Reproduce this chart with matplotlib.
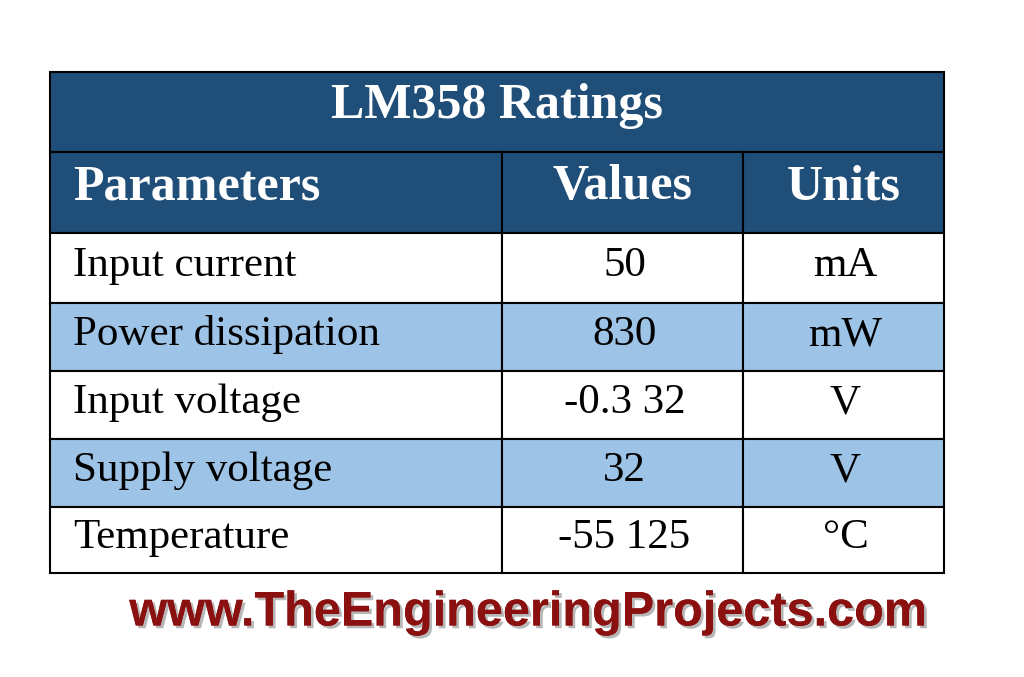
import matplotlib
matplotlib.use("Agg")
import matplotlib.pyplot as plt
from matplotlib.patches import Rectangle
import matplotlib.patheffects as pe

title = "LM358 Ratings"
headers = ["Parameters", "Values", "Units"]
params = ["Input current", "Power dissipation", "Input voltage", "Supply voltage", "Temperature"]
values = ["50", "830", "-0.3 32", "32", "-55 125"]
units = ["mA", "mW", "V", "V", "°C"]
watermark = "www.TheEngineeringProjects.com"

W, H = 1024, 677
fig = plt.figure(figsize=(W/100, H/100), dpi=100)
ax = fig.add_axes([0, 0, 1, 1])
ax.set_xlim(0, W); ax.set_ylim(H, 0); ax.axis("off")

dark = "#1F4E79"; light = "#9DC3E6"
xl, xr = 50, 944
cols = [50, 502, 743, 944]
row_y = [233, 303, 371, 439, 507, 573]
serif = "Liberation Serif"

def cell(x0, y0, x1, y1, fc):
    ax.add_patch(Rectangle((x0, y0), x1-x0, y1-y0, facecolor=fc, edgecolor="black", lw=1.5))

cell(xl, 72, xr, 152, dark)
ax.text((xl+xr)/2, 106, title, color="white", fontsize=36, fontweight="bold", family=serif, ha="center", va="center")
for i, h in enumerate(headers):
    cell(cols[i], 152, cols[i+1], 233, dark)
    x = 73 if i == 0 else (cols[i]+cols[i+1])/2
    ax.text(x, 187, h, color="white", fontsize=36, fontweight="bold", family=serif,
            ha="left" if i == 0 else "center", va="center")
for r in range(len(params)):
    fc = "white" if r % 2 == 0 else light
    y0, y1 = row_y[r], row_y[r+1]
    for c in range(3):
        cell(cols[c], y0, cols[c+1], y1, fc)
    yc = (y0+y1)/2 - 2
    ax.text(73, yc, params[r], fontsize=31, family=serif, ha="left", va="center")
    ax.text((cols[1]+cols[2])/2 + 2, yc, values[r], fontsize=31, family=serif, ha="center", va="center")
    ax.text((cols[2]+cols[3])/2 + 2, yc, units[r], fontsize=31, family=serif, ha="center", va="center")

ax.text(528, 613, watermark, color="#8B1010", fontsize=35, fontweight="bold", family="Liberation Sans",
        ha="center", va="center",
        path_effects=[pe.withSimplePatchShadow(offset=(2, -2), shadow_rgbFace="#888888", alpha=0.6), pe.Normal()])

fig.savefig("out.png", dpi=100)
